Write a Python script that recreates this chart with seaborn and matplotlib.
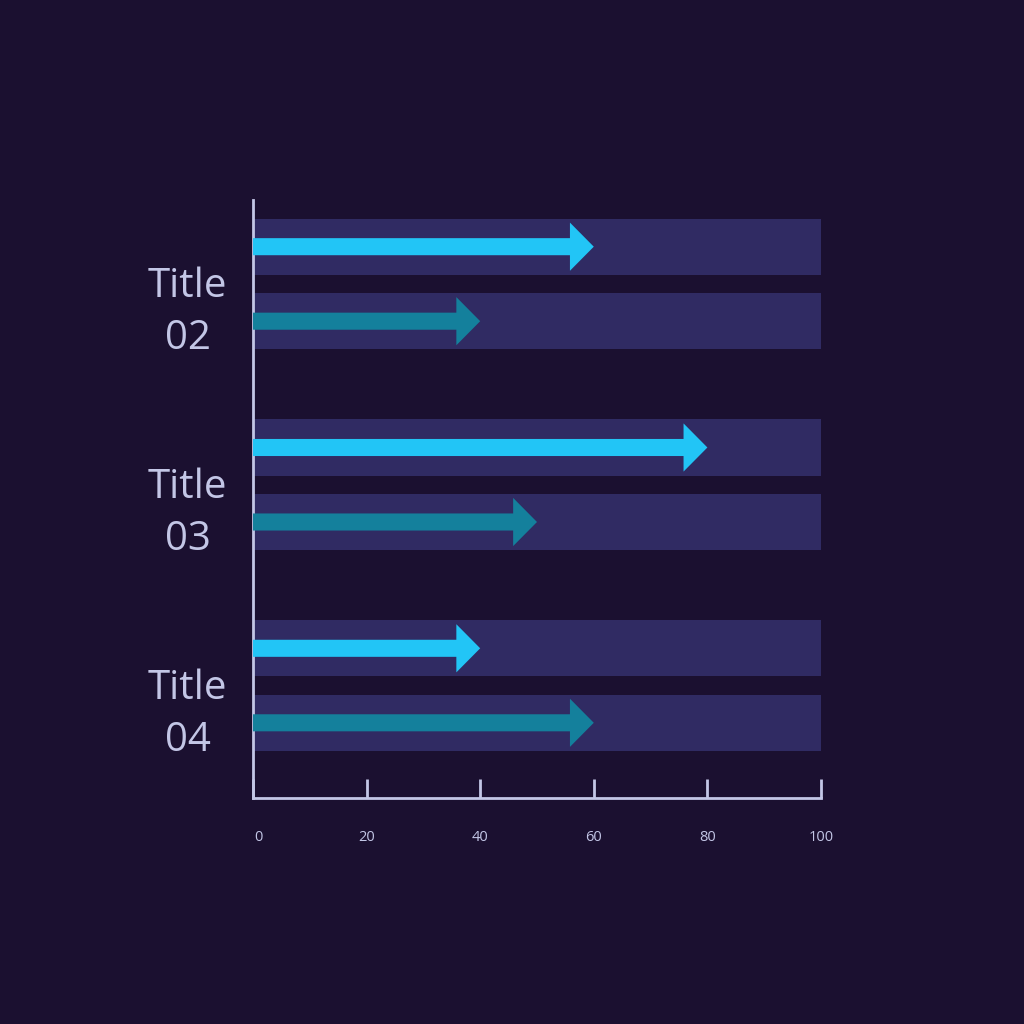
import pandas as pd
import seaborn as sns
import matplotlib.pyplot as plt
from matplotlib.patches import FancyArrow
from matplotlib.transforms import ScaledTranslation

# Chart values
categories = ["Title\n02", "Title\n03", "Title\n04"]
series_names = ["A", "B"]
values_a = [60, 80, 40]
values_b = [40, 50, 60]
band_max = 100
x_ticks = [0, 20, 40, 60, 80, 100]

bg = "#1b1030"
band_color = "#302b63"
arrow_colors = {"A": "#22c5f6", "B": "#14809c"}
axis_color = "#c3c6e6"

# Long-form table for seaborn
data = pd.DataFrame({
    "category": categories * 2,
    "series": ["A"] * len(categories) + ["B"] * len(categories),
    "value": values_a + values_b,
})
data["band"] = band_max

sns.set_theme(style="white")
plt.rcParams["font.family"] = ["Open Sans", "DejaVu Sans"]

fig = plt.figure(figsize=(10.24, 10.24), dpi=100, facecolor=bg)
ax = fig.add_axes([253 / 1024, 1 - 798 / 1024, (821 - 253) / 1024, (798 - 200) / 1024])
ax.set_facecolor(bg)

# Background bands (full length), grouped two per category
sns.barplot(data=data, y="category", x="band", hue="series", order=categories,
            hue_order=series_names, palette=[band_color, band_color],
            width=0.742, gap=0.247, dodge=True, legend=False, ax=ax,
            saturation=1, linewidth=0)

# Arrows drawn on the band centres
bands = sorted(ax.patches, key=lambda p: p.get_y())
rows = data.set_index(["category", "series"])["value"]
order = [(c, s) for c in categories for s in series_names]
for patch, (cat, ser) in zip(bands, order):
    yc = patch.get_y() + patch.get_height() / 2
    val = rows[(cat, ser)]
    ax.add_patch(FancyArrow(0, yc, val, 0, width=0.085, head_width=0.24,
                            head_length=4.2, length_includes_head=True,
                            color=arrow_colors[ser], linewidth=0, zorder=3))

ax.set_xlim(0, 100)
ax.set_ylim(2.56, -0.418)
ax.set_xlabel("")
ax.set_ylabel("")

ax.set_xticks(x_ticks)
ax.set_xticklabels([str(t) for t in x_ticks])
ax.tick_params(axis="x", direction="in", length=14, width=2, color=axis_color,
               labelcolor=axis_color, labelsize=10.5, pad=23, bottom=True)
ax.tick_params(axis="y", length=0, labelcolor=axis_color, labelsize=29, pad=47)
shift = ScaledTranslation(0, -18 / 100, fig.dpi_scale_trans)
for lab in ax.get_yticklabels():
    lab.set_horizontalalignment("center")
    lab.set_linespacing(1.38)
    lab.set_transform(lab.get_transform() + shift)
# first label sits a little right of the axis line
first = ax.get_xticklabels()[0]
first.set_transform(first.get_transform() + ScaledTranslation(5 / 100, 0, fig.dpi_scale_trans))

for side in ["top", "right"]:
    ax.spines[side].set_visible(False)
for side in ["left", "bottom"]:
    ax.spines[side].set_color(axis_color)
    ax.spines[side].set_linewidth(2)

fig.savefig("out.png", dpi=100, facecolor=bg)
